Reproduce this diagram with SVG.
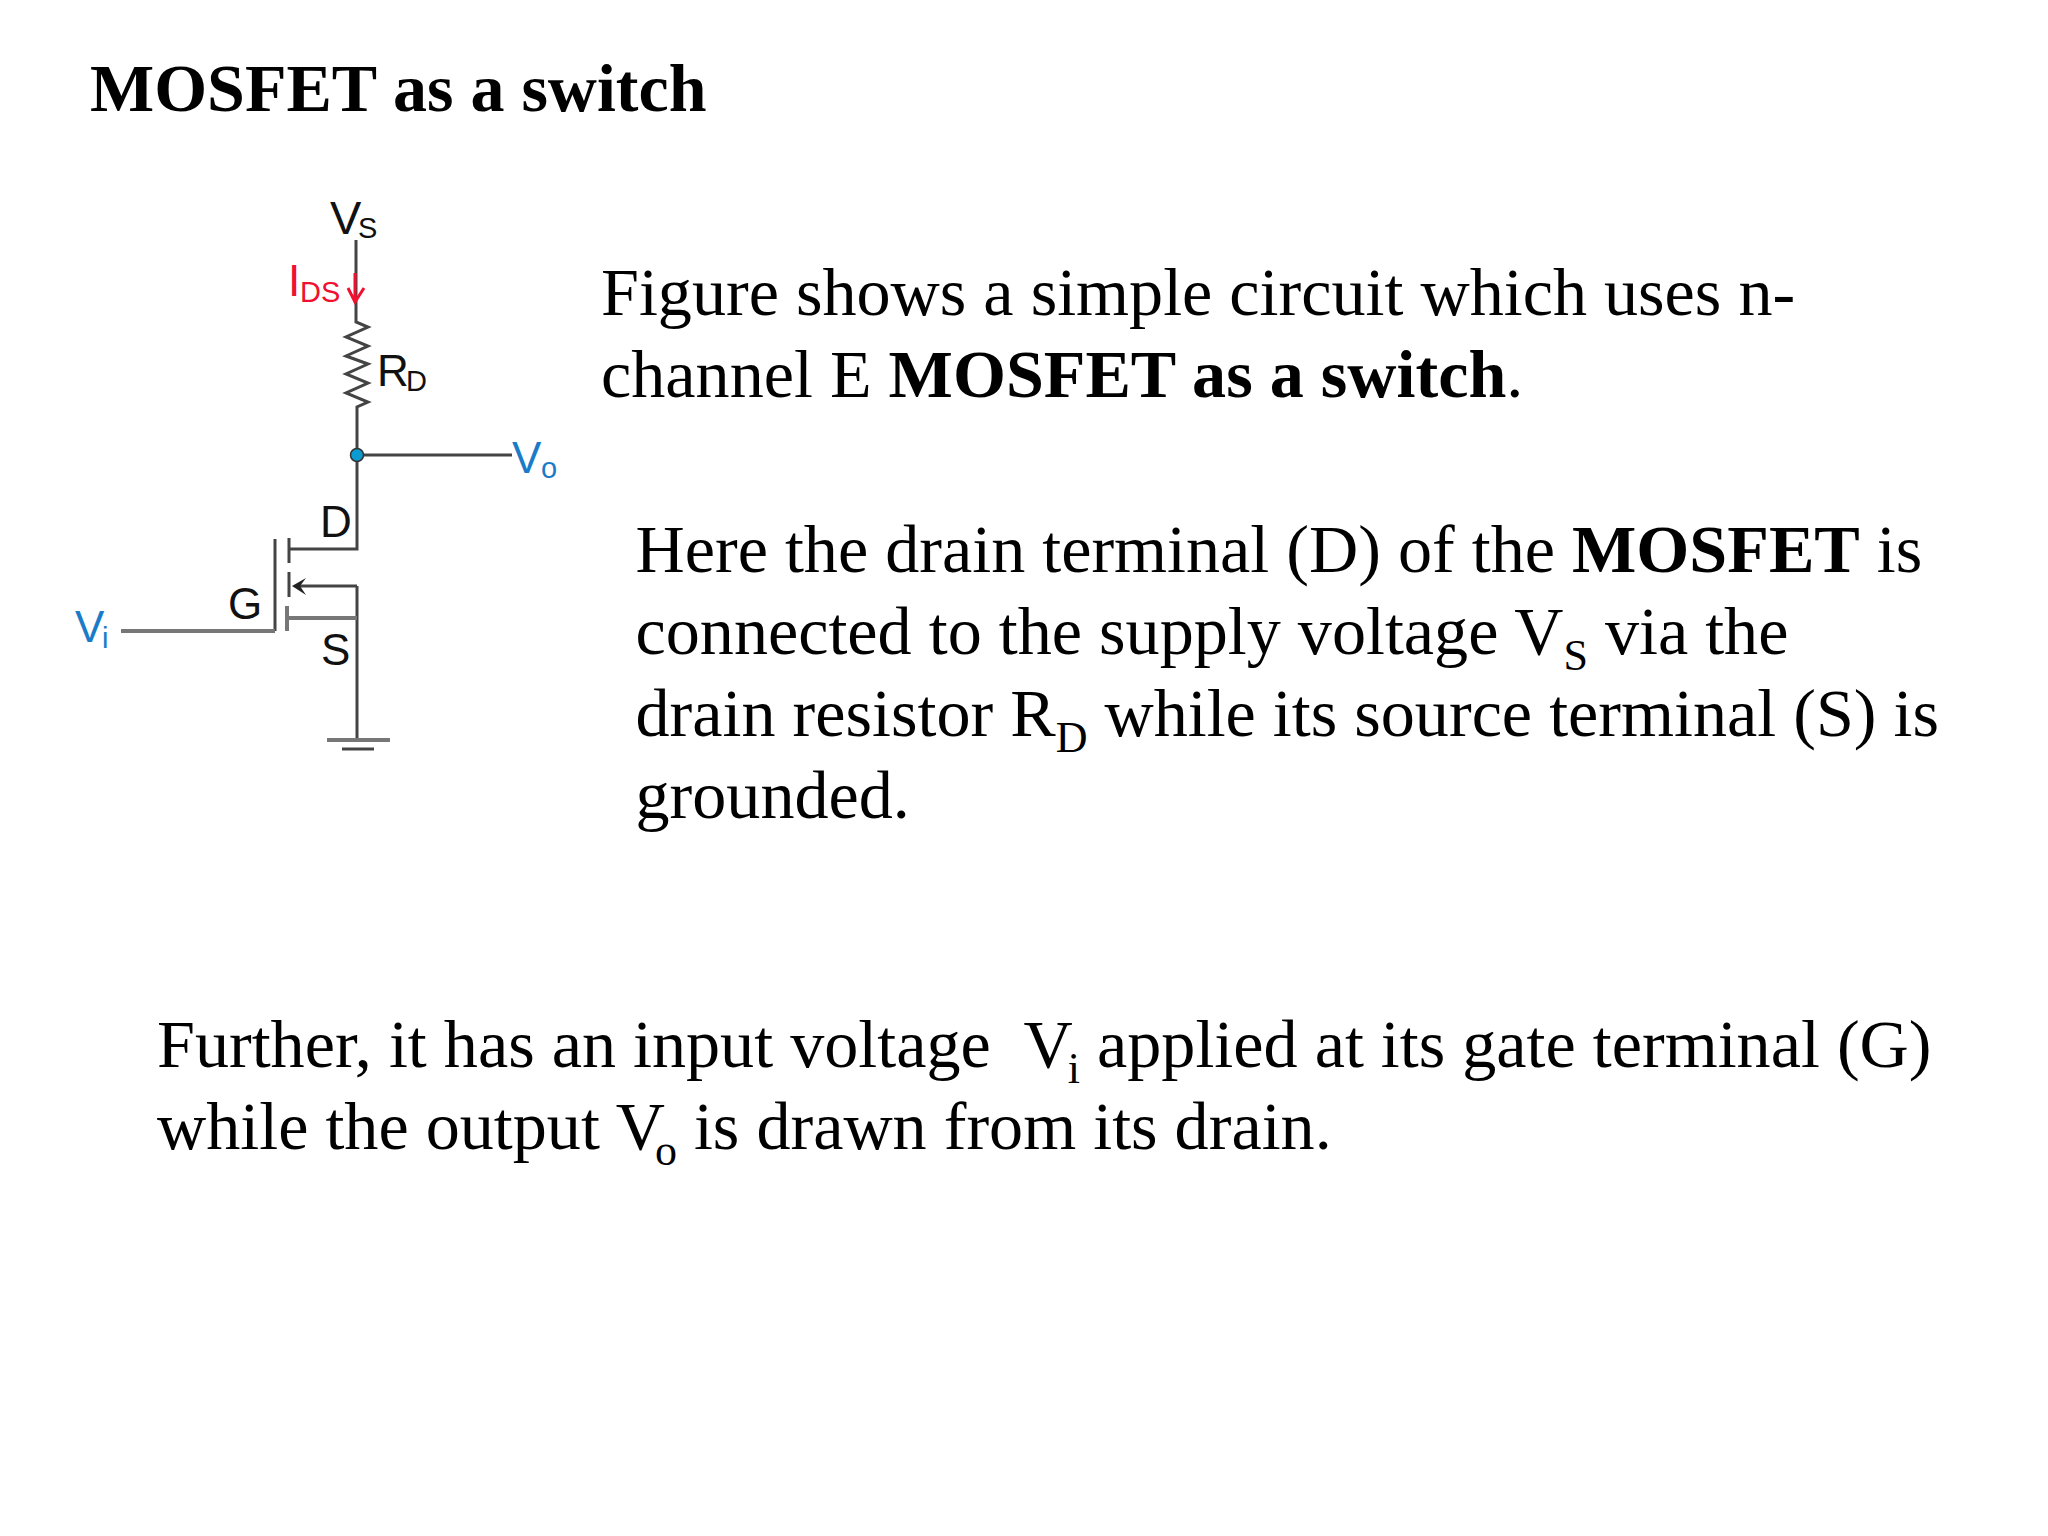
<svg xmlns="http://www.w3.org/2000/svg" width="2048" height="1536" viewBox="0 0 2048 1536">
<style>
.t{font-family:"Liberation Serif",serif;font-size:68.15px;fill:#000}
.b{font-weight:bold}
.s{font-size:44px}
.c{font-family:"Liberation Sans",sans-serif;font-size:44px;fill:#111}
.cs{font-size:29px}
.blue{fill:#1a7cc8}
.red{fill:#f01030}
.w{fill:none;stroke:#444;stroke-width:3}
.g{fill:none;stroke:#777;stroke-width:4}
</style>
<rect width="2048" height="1536" fill="#fff"/>
<text id="title" class="t b" style="font-size:68px" x="90" y="111">MOSFET as a switch</text>
<g id="para1"><text class="t" x="601" y="315">Figure shows a simple circuit which uses n-</text>
<text class="t" x="601" y="397">channel E <tspan class="b">MOSFET as a switch</tspan>.</text></g>
<g id="para2"><text class="t" x="635.5" y="572">Here the drain terminal (D) of the <tspan class="b">MOSFET</tspan> is</text>
<text class="t" x="635.5" y="654">connected to the supply voltage V<tspan class="s" dy="16">S</tspan><tspan dy="-16"> via the</tspan></text>
<text class="t" x="635.5" y="736">drain resistor R<tspan class="s" dy="16">D</tspan><tspan dy="-16"> while its source terminal (S) is</tspan></text>
<text class="t" x="635.5" y="818">grounded.</text></g>
<g id="para3"><text class="t" x="157" y="1067">Further, it has an input voltage&#160; V<tspan class="s" dx="-5" dy="16">i</tspan><tspan dy="-16"> applied at its gate terminal (G)</tspan></text>
<text class="t" x="157" y="1149">while the output V<tspan class="s" dx="-10" dy="16">o</tspan><tspan dy="-16"> is drawn from its drain.</tspan></text></g>
<g id="connectors">
<path class="w" d="M356 240V322L368 327 346 337 368 346 346 356 368 364 346 374 368 383 346 393 368 402 357 407V549H289M357 455H512"/>
<path class="w" d="M275 539V631M289 538V563M289 572V597M357 586H296M357 586V738"/>
<path class="g" d="M121 631H275M287 606V631M287 618H357"/>
<path class="g" d="M327 740H390"/>
<path class="w" d="M342 749H374"/>
<path d="M292 586L306 578 300 586 306 595Z" fill="#222"/>
<path d="M355 273V302M348 288L355 302 364 288" fill="none" stroke="#f01030" stroke-width="3"/>
</g>
<g id="node-junction"><circle cx="357" cy="455" r="6.5" fill="#0b9bd0" stroke="#333" stroke-width="1.5"/></g>
<g id="label-vs"><text class="c" style="font-size:47px" x="330" y="234">V</text><text class="c cs" x="358" y="238">S</text></g>
<g id="label-ids"><text class="c red" x="288" y="296">I</text><text class="c cs red" x="300" y="302">DS</text></g>
<g id="label-rd"><text class="c" x="377" y="386">R</text><text class="c cs" x="406" y="391">D</text></g>
<g id="label-vo"><text class="c blue" x="512" y="473">V</text><text class="c cs blue" x="541" y="478">o</text></g>
<g id="label-d"><text class="c" x="320" y="537">D</text></g>
<g id="label-g"><text class="c" x="228" y="619">G</text></g>
<g id="label-s"><text class="c" x="321" y="665">S</text></g>
<g id="label-vi"><text class="c blue" x="75" y="642">V</text><text class="c cs blue" x="102" y="648">i</text></g>
</svg>
